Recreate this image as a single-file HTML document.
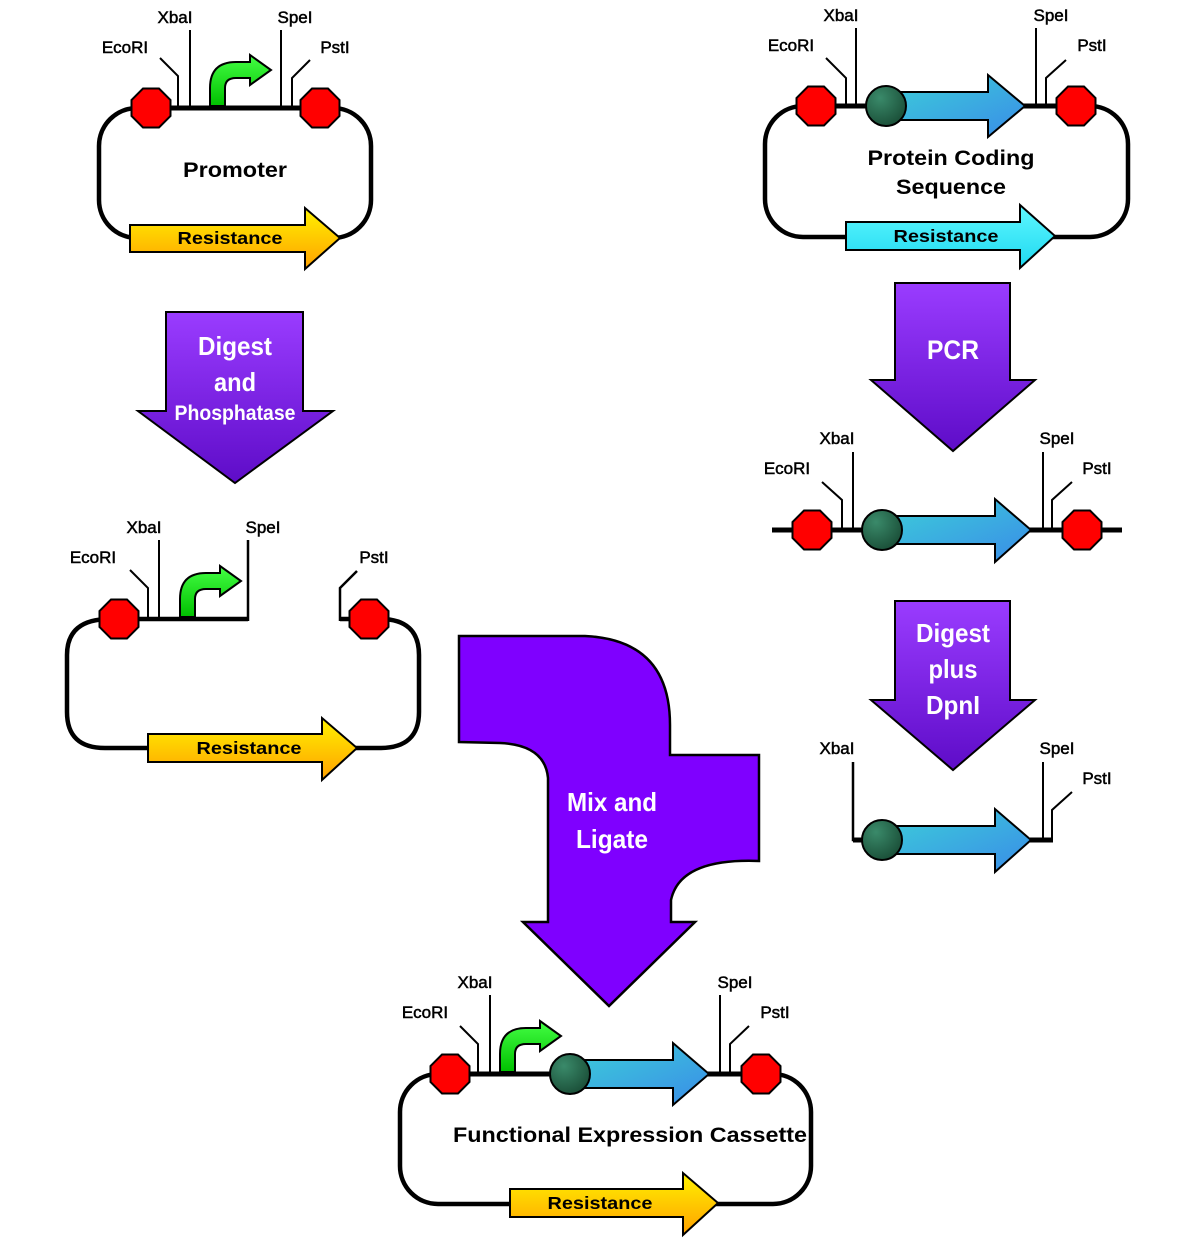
<!DOCTYPE html>
<html><head><meta charset="utf-8"><style>
html,body{margin:0;padding:0;background:#fff;}
svg{display:block;}
text{font-family:"Liberation Sans",Arial,sans-serif;font-weight:bold;}
.lb{font-size:17px;fill:#000;text-anchor:middle;font-weight:normal;stroke:#000;stroke-width:0.5;}
.w{fill:#fff;text-anchor:middle;font-family:"Liberation Sans Narrow","Liberation Sans",sans-serif;font-weight:bold;}
</style></head><body>
<svg width="1200" height="1251" viewBox="0 0 1200 1251" xmlns="http://www.w3.org/2000/svg">
<defs>
<linearGradient id="yel" x1="0" y1="0" x2="0" y2="1"><stop offset="0" stop-color="#fff200"/><stop offset="1" stop-color="#ffa000"/></linearGradient>
<linearGradient id="cy" x1="0" y1="0" x2="0" y2="1"><stop offset="0" stop-color="#5ff8ff"/><stop offset="1" stop-color="#20d8f0"/></linearGradient>
<linearGradient id="bl" x1="0" y1="0" x2="1" y2="1"><stop offset="0" stop-color="#3cd0d8"/><stop offset="1" stop-color="#3a8ce8"/></linearGradient>
<linearGradient id="pu" x1="0" y1="0" x2="0" y2="1"><stop offset="0" stop-color="#9a3cff"/><stop offset="1" stop-color="#5e0cc8"/></linearGradient>
<linearGradient id="gr" x1="0" y1="0" x2="0" y2="1"><stop offset="0" stop-color="#44ff44"/><stop offset="1" stop-color="#00c000"/></linearGradient>
<radialGradient id="dg" cx="0.35" cy="0.3" r="0.8"><stop offset="0" stop-color="#3a8a6a"/><stop offset="1" stop-color="#184a34"/></radialGradient>
<polygon id="oct" points="-8,-19.5 8,-19.5 19.5,-8 19.5,8 8,19.5 -8,19.5 -19.5,8 -19.5,-8" fill="#ff0000" stroke="#000" stroke-width="2"/>
<path id="prom" d="M0,0 L0,-18 Q0,-44 26,-44 L40,-44 L40,-51 L61,-36 L40,-21 L40,-28 L26,-28 Q15,-28 15,-18 L15,0 Z" fill="url(#gr)" stroke="#000" stroke-width="2"/>
<circle id="rbs" r="20" fill="url(#dg)" stroke="#000" stroke-width="2"/>
</defs>

<!-- Plasmid 1 -->
<rect x="99" y="108" width="272" height="130" rx="38" fill="none" stroke="#000" stroke-width="4.5"/>
<line x1="150" y1="108" x2="320" y2="108" stroke="#000" stroke-width="5"/>
<polyline points="160,58 178,76 178,108" fill="none" stroke="#000" stroke-width="2"/>
<line x1="190" y1="30" x2="190" y2="108" stroke="#000" stroke-width="2"/>
<line x1="281" y1="30" x2="281" y2="108" stroke="#000" stroke-width="2"/>
<polyline points="310,60 292,78 292,108" fill="none" stroke="#000" stroke-width="2"/>
<use href="#prom" x="210" y="106"/>
<use href="#oct" x="151" y="108"/><use href="#oct" x="320" y="108"/>
<text class="lb" x="125" y="53">EcoRI</text><text class="lb" x="175" y="23">XbaI</text>
<text class="lb" x="295" y="23">SpeI</text><text class="lb" x="335" y="53">PstI</text>
<text x="235" y="177" font-size="21" text-anchor="middle" textLength="104" lengthAdjust="spacingAndGlyphs">Promoter</text>
<polygon points="130,225 305,225 305,208 340,238 305,269 305,252 130,252" fill="url(#yel)" stroke="#000" stroke-width="2"/>
<text x="230" y="244" font-size="17.5" text-anchor="middle" textLength="105" lengthAdjust="spacingAndGlyphs">Resistance</text>

<!-- Plasmid 2 -->
<rect x="765" y="106" width="363" height="131" rx="38" fill="none" stroke="#000" stroke-width="4.5"/>
<line x1="815" y1="106" x2="1076" y2="106" stroke="#000" stroke-width="5"/>
<polyline points="826,58 846,78 846,106" fill="none" stroke="#000" stroke-width="2"/>
<line x1="856" y1="28" x2="856" y2="106" stroke="#000" stroke-width="2"/>
<line x1="1036" y1="28" x2="1036" y2="106" stroke="#000" stroke-width="2"/>
<polyline points="1066,60 1046,78 1046,106" fill="none" stroke="#000" stroke-width="2"/>
<polygon points="886,92 988,92 988,75 1025,106 988,137 988,120 886,120" fill="url(#bl)" stroke="#000" stroke-width="2"/>
<use href="#rbs" x="886" y="106"/>
<use href="#oct" x="816" y="106"/><use href="#oct" x="1076" y="106"/>
<text class="lb" x="791" y="51">EcoRI</text><text class="lb" x="841" y="21">XbaI</text>
<text class="lb" x="1051" y="21">SpeI</text><text class="lb" x="1092" y="51">PstI</text>
<text x="951" y="165" font-size="21" text-anchor="middle" textLength="167" lengthAdjust="spacingAndGlyphs">Protein Coding</text>
<text x="951" y="194" font-size="21" text-anchor="middle" textLength="110" lengthAdjust="spacingAndGlyphs">Sequence</text>
<polygon points="846,222 1020,222 1020,205 1055,236 1020,268 1020,250 846,250" fill="url(#cy)" stroke="#000" stroke-width="2"/>
<text x="946" y="242" font-size="17.5" text-anchor="middle" textLength="105" lengthAdjust="spacingAndGlyphs">Resistance</text>

<!-- Digest and Phosphatase arrow -->
<polygon points="166,312 303,312 303,411 333,411 235,483 138,411 166,411" fill="url(#pu)" stroke="#000" stroke-width="2"/>
<text class="w" x="235" y="355" font-size="26" textLength="74" lengthAdjust="spacingAndGlyphs">Digest</text>
<text class="w" x="235" y="391" font-size="26" textLength="42" lengthAdjust="spacingAndGlyphs">and</text>
<text class="w" x="235" y="420" font-size="21" textLength="121" lengthAdjust="spacingAndGlyphs">Phosphatase</text>

<!-- PCR arrow -->
<polygon points="895,283 1010,283 1010,380 1035,380 953,451 871,380 895,380" fill="url(#pu)" stroke="#000" stroke-width="2"/>
<text class="w" x="953" y="359" font-size="27" textLength="52" lengthAdjust="spacingAndGlyphs">PCR</text>

<!-- Plasmid 3 (open) -->
<path d="M248,619 L110,619 Q67,619 67,655 L67,712 Q67,748 105,748 L380,748 Q419,748 419,712 L419,655 Q419,619 380,619 L340,619" fill="none" stroke="#000" stroke-width="4.5"/>
<polyline points="130,570 148,588 148,619" fill="none" stroke="#000" stroke-width="2"/>
<line x1="159" y1="540" x2="159" y2="619" stroke="#000" stroke-width="2"/>
<line x1="248" y1="540" x2="248" y2="621" stroke="#000" stroke-width="2.5"/>
<polyline points="357,571 340,588 340,621" fill="none" stroke="#000" stroke-width="2.5"/>
<use href="#prom" x="180" y="617"/>
<use href="#oct" x="119" y="619"/><use href="#oct" x="369" y="619"/>
<text class="lb" x="93" y="563">EcoRI</text><text class="lb" x="144" y="533">XbaI</text>
<text class="lb" x="263" y="533">SpeI</text><text class="lb" x="374" y="563">PstI</text>
<polygon points="148,734 322,734 322,718 357,748 322,780 322,762 148,762" fill="url(#yel)" stroke="#000" stroke-width="2"/>
<text x="249" y="754" font-size="17.5" text-anchor="middle" textLength="105" lengthAdjust="spacingAndGlyphs">Resistance</text>

<!-- Linear PCR product -->
<line x1="772" y1="530" x2="1122" y2="530" stroke="#000" stroke-width="5"/>
<polyline points="822,482 842,500 842,530" fill="none" stroke="#000" stroke-width="2"/>
<line x1="853" y1="452" x2="853" y2="530" stroke="#000" stroke-width="2"/>
<line x1="1043" y1="452" x2="1043" y2="530" stroke="#000" stroke-width="2"/>
<polyline points="1072,482 1052,500 1052,530" fill="none" stroke="#000" stroke-width="2"/>
<polygon points="882,516 995,516 995,499 1031,530 995,562 995,544 882,544" fill="url(#bl)" stroke="#000" stroke-width="2"/>
<use href="#rbs" x="882" y="530"/>
<use href="#oct" x="812" y="530"/><use href="#oct" x="1082" y="530"/>
<text class="lb" x="787" y="474">EcoRI</text><text class="lb" x="837" y="444">XbaI</text>
<text class="lb" x="1057" y="444">SpeI</text><text class="lb" x="1097" y="474">PstI</text>

<!-- Digest plus DpnI arrow -->
<polygon points="895,601 1010,601 1010,700 1035,700 953,770 871,700 895,700" fill="url(#pu)" stroke="#000" stroke-width="2"/>
<text class="w" x="953" y="642" font-size="26" textLength="74" lengthAdjust="spacingAndGlyphs">Digest</text>
<text class="w" x="953" y="678" font-size="26" textLength="49" lengthAdjust="spacingAndGlyphs">plus</text>
<text class="w" x="953" y="714" font-size="26" textLength="54" lengthAdjust="spacingAndGlyphs">DpnI</text>

<!-- Fragment -->
<polyline points="853,762 853,840 870,840" fill="none" stroke="#000" stroke-width="2.5"/>
<line x1="853" y1="840" x2="868" y2="840" stroke="#000" stroke-width="5"/>
<line x1="1030" y1="840" x2="1053" y2="840" stroke="#000" stroke-width="5"/>
<line x1="1043" y1="762" x2="1043" y2="840" stroke="#000" stroke-width="2"/>
<polyline points="1072,792 1052,810 1052,842" fill="none" stroke="#000" stroke-width="2"/>
<polygon points="882,826 995,826 995,809 1031,840 995,872 995,854 882,854" fill="url(#bl)" stroke="#000" stroke-width="2"/>
<use href="#rbs" x="882" y="840"/>
<text class="lb" x="837" y="754">XbaI</text><text class="lb" x="1057" y="754">SpeI</text><text class="lb" x="1097" y="784">PstI</text>

<!-- Mix and Ligate -->
<path d="M459,636 L585,636 Q670,640 670,725 L670,755 L759,755 L759,861 Q680,858 671,900 L671,922 L695,922 L609,1006 L523,922 L548,922 L548,778 Q545,745 500,743 L459,742 Z" fill="#7f00ff" stroke="#000" stroke-width="2.5"/>
<text class="w" x="612" y="811" font-size="26" textLength="90" lengthAdjust="spacingAndGlyphs">Mix and</text>
<text class="w" x="612" y="848" font-size="26" textLength="72" lengthAdjust="spacingAndGlyphs">Ligate</text>

<!-- Final plasmid -->
<rect x="400" y="1074" width="411" height="130" rx="38" fill="none" stroke="#000" stroke-width="4.5"/>
<line x1="450" y1="1074" x2="760" y2="1074" stroke="#000" stroke-width="5"/>
<polyline points="460,1026 478,1044 478,1074" fill="none" stroke="#000" stroke-width="2"/>
<line x1="490" y1="995" x2="490" y2="1074" stroke="#000" stroke-width="2"/>
<line x1="720" y1="995" x2="720" y2="1074" stroke="#000" stroke-width="2"/>
<polyline points="749,1026 730,1044 730,1074" fill="none" stroke="#000" stroke-width="2"/>
<use href="#prom" x="500" y="1072"/>
<polygon points="570,1060 673,1060 673,1043 709,1074 673,1105 673,1088 570,1088" fill="url(#bl)" stroke="#000" stroke-width="2"/>
<use href="#rbs" x="570" y="1074"/>
<use href="#oct" x="450" y="1074"/><use href="#oct" x="761" y="1074"/>
<text class="lb" x="425" y="1018">EcoRI</text><text class="lb" x="475" y="988">XbaI</text>
<text class="lb" x="735" y="988">SpeI</text><text class="lb" x="775" y="1018">PstI</text>
<text x="630" y="1142" font-size="21" text-anchor="middle" textLength="354" lengthAdjust="spacingAndGlyphs">Functional Expression Cassette</text>
<polygon points="510,1189 683,1189 683,1173 718,1203 683,1235 683,1217 510,1217" fill="url(#yel)" stroke="#000" stroke-width="2"/>
<text x="600" y="1209" font-size="17.5" text-anchor="middle" textLength="105" lengthAdjust="spacingAndGlyphs">Resistance</text>
</svg>
</body></html>
